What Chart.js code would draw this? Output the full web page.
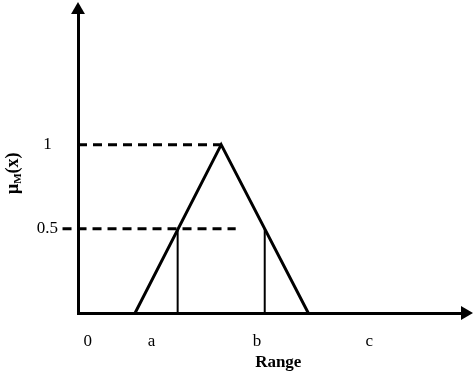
<!DOCTYPE html>
<html>
<head>
<meta charset="utf-8">
<script src="https://cdn.jsdelivr.net/npm/chart.js@4.4.0/dist/chart.umd.min.js"></script>
<style>
  html, body { margin: 0; padding: 0; background: #fff; }
  #wrap { width: 474px; height: 382px; position: relative; }
</style>
</head>
<body>
<div id="wrap"><canvas id="c" width="474" height="382"></canvas></div>
<script>
// ---- data ----
const triangleX = [5.9, 14.8, 23.8];
const triangleY = [0, 1, 0];
const cutX = [10.3, 19.3];          // alpha-cut verticals at 0.5
const cutLevel = 0.5;
const dashPeakX = [0, 14.8];        // dashed guide at membership 1
const dashHalfX = [-1.6, 16.3];     // dashed guide at membership 0.5
const yTickValues = [0.5, 1];
const xTickValues = [1, 7.6, 18.5, 30.1];
const xTickLabels = ['0', 'a', 'b', 'c'];
const xTitle = 'Range';
const xMax = 40;
const yMax = 1.8;

const serif = "'Liberation Serif', 'Times New Roman', serif";
Chart.defaults.font.family = serif;
Chart.defaults.font.size = 17;
Chart.defaults.color = '#000';

const titlesPlugin = {
  id: 'axisTitles',
  afterDraw(chart) {
    const ctx = chart.ctx;
    const ys = chart.scales.y;
    const xs = chart.scales.x;
    ctx.save();
    ctx.fillStyle = '#000';
    // x title
    ctx.font = 'bold 17px ' + serif;
    ctx.textAlign = 'center';
    ctx.textBaseline = 'middle';
    ctx.fillText(xTitle, xs.getPixelForValue(20.7), 363);
    // y title with subscript
    const cy = ys.getPixelForValue(0.83);
    ctx.textBaseline = 'alphabetic';
    ctx.textAlign = 'left';
    const big = 'bold 18px ' + serif;
    const small = 'bold 11px ' + serif;
    ctx.font = big; const w1 = ctx.measureText('\u03bc').width;
    ctx.font = small; const w2 = ctx.measureText('M').width;
    ctx.font = big; const w3 = ctx.measureText('(x)').width;
    const total = w1 + w2 + w3;
    ctx.translate(18, cy + total / 2);
    ctx.rotate(-Math.PI / 2);
    ctx.font = big; ctx.fillText('\u03bc', 0, 0);
    ctx.font = small; ctx.fillText('M', w1, 3);
    ctx.font = big; ctx.fillText('(x)', w1 + w2, 0);
    ctx.restore();
  }
};

const pts = (xs, ys) => xs.map((x, i) => ({ x: x, y: Array.isArray(ys) ? ys[i] : ys }));

const lineDs = (data, extra) => Object.assign({
  data: data, showLine: true, borderColor: '#000', backgroundColor: '#000',
  borderWidth: 3, pointRadius: 0, pointHoverRadius: 0, fill: false, tension: 0
}, extra || {});

new Chart(document.getElementById('c'), {
  type: 'scatter',
  data: {
    datasets: [
      lineDs(pts(triangleX, triangleY), { borderWidth: 3 }),
      lineDs(pts([cutX[0], cutX[0]], [0, cutLevel]), { borderWidth: 2 }),
      lineDs(pts([cutX[1], cutX[1]], [0, cutLevel]), { borderWidth: 2 }),
      lineDs(pts(dashPeakX, 1), { borderDash: [9, 6] }),
      lineDs(pts(dashHalfX, cutLevel), { borderDash: [9, 6], clip: false }),
      {
        data: [{ x: 0, y: yMax }, { x: xMax, y: 0 }],
        showLine: false, pointStyle: 'triangle', pointRadius: 8, pointHoverRadius: 8,
        rotation: [0, 90], backgroundColor: '#000', borderColor: '#000', borderWidth: 0, clip: false
      }
    ]
  },
  options: {
    responsive: false,
    animation: false,
    events: [],
    layout: { padding: { top: 10, right: 9, left: 0, bottom: 0 } },
    plugins: { legend: { display: false }, tooltip: { enabled: false } },
    scales: {
      x: {
        type: 'linear', min: 0, max: xMax,
        grid: { display: false, drawTicks: false },
        border: { display: true, width: 3, color: '#000' },
        afterBuildTicks: s => { s.ticks = xTickValues.map(v => ({ value: v })); },
        afterFit: s => { s.height = 69; s.paddingLeft = 0; s.paddingRight = 0; },
        ticks: {
          autoSkip: false, maxRotation: 0, padding: 18,
          callback: (v, i) => xTickLabels[i]
        }
      },
      y: {
        type: 'linear', min: 0, max: yMax,
        grid: { display: false, drawTicks: false },
        border: { display: true, width: 3, color: '#000' },
        afterBuildTicks: s => { s.ticks = yTickValues.map(v => ({ value: v })); },
        afterFit: s => { s.width = 78; s.paddingTop = 0; s.paddingBottom = 0; },
        ticks: { crossAlign: 'center', padding: 20, callback: v => String(v) }
      }
    }
  },
  plugins: [titlesPlugin]
});
</script>
</body>
</html>
